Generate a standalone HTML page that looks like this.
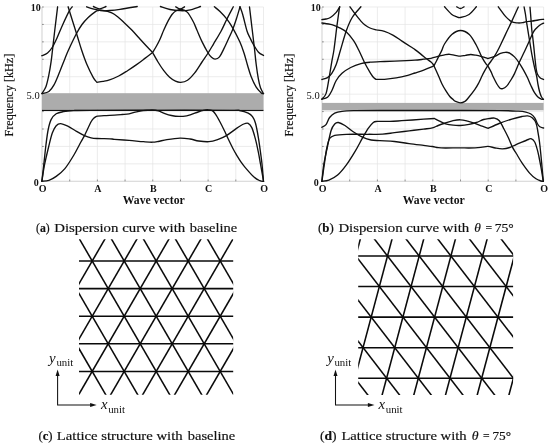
<!DOCTYPE html>
<html><head><meta charset="utf-8"><title>Figure</title>
<style>
html,body{margin:0;padding:0;background:#fff}
body{width:550px;height:446px;overflow:hidden}
svg{display:block}
text{font-family:"Liberation Serif",serif;fill:#111}
.g{stroke:#e4e4e4;stroke-width:0.7}
.ax{stroke:#cfcfcf;stroke-width:0.7}
.tk{stroke:#555;stroke-width:0.6}
.c{fill:none;stroke:#111;stroke-width:1.35;stroke-linecap:round;stroke-linejoin:round}
.tl{font-size:10px;font-weight:bold}
.al{font-size:11.7px;font-weight:bold}
.fl{font-size:12.2px;stroke:#111;stroke-width:0.15}
.t5{font-size:10.5px}
.lt line{stroke:#0a0a0a;stroke-width:1.55}
.it{font-style:italic;font-size:14.8px}
.sub{font-size:10.8px}
.cap{font-size:13px;stroke:#111;stroke-width:0.18}
.b{font-weight:bold}
.i{font-style:italic}
</style></head><body>
<svg width="550" height="446" viewBox="0 0 550 446"><defs><clipPath id="cl"><rect x="79" y="239.2" width="154.2" height="155.6"/></clipPath><clipPath id="cr"><rect x="358.2" y="239.3" width="154.9" height="155.6"/></clipPath></defs><rect width="550" height="446" fill="#fff"/><line x1="42.00" y1="7.00" x2="42.00" y2="181.30" class="g"/><line x1="69.69" y1="7.00" x2="69.69" y2="181.30" class="g"/><line x1="97.38" y1="7.00" x2="97.38" y2="181.30" class="g"/><line x1="125.06" y1="7.00" x2="125.06" y2="181.30" class="g"/><line x1="152.75" y1="7.00" x2="152.75" y2="181.30" class="g"/><line x1="180.44" y1="7.00" x2="180.44" y2="181.30" class="g"/><line x1="208.12" y1="7.00" x2="208.12" y2="181.30" class="g"/><line x1="235.81" y1="7.00" x2="235.81" y2="181.30" class="g"/><line x1="263.50" y1="7.00" x2="263.50" y2="181.30" class="g"/><line x1="42.00" y1="7.00" x2="263.50" y2="7.00" class="g"/><line x1="42.00" y1="24.43" x2="263.50" y2="24.43" class="g"/><line x1="42.00" y1="41.86" x2="263.50" y2="41.86" class="g"/><line x1="42.00" y1="59.29" x2="263.50" y2="59.29" class="g"/><line x1="42.00" y1="76.72" x2="263.50" y2="76.72" class="g"/><line x1="42.00" y1="94.15" x2="263.50" y2="94.15" class="g"/><line x1="42.00" y1="111.58" x2="263.50" y2="111.58" class="g"/><line x1="42.00" y1="129.01" x2="263.50" y2="129.01" class="g"/><line x1="42.00" y1="146.44" x2="263.50" y2="146.44" class="g"/><line x1="42.00" y1="163.87" x2="263.50" y2="163.87" class="g"/><line x1="42.00" y1="181.30" x2="263.50" y2="181.30" class="g"/><line x1="42.00" y1="7.00" x2="42.00" y2="181.30" class="ax"/><line x1="42.00" y1="181.30" x2="263.50" y2="181.30" class="ax"/><line x1="42.00" y1="181.30" x2="42.00" y2="179.50" class="tk"/><line x1="69.69" y1="181.30" x2="69.69" y2="179.50" class="tk"/><line x1="97.38" y1="181.30" x2="97.38" y2="179.50" class="tk"/><line x1="125.06" y1="181.30" x2="125.06" y2="179.50" class="tk"/><line x1="152.75" y1="181.30" x2="152.75" y2="179.50" class="tk"/><line x1="180.44" y1="181.30" x2="180.44" y2="179.50" class="tk"/><line x1="208.12" y1="181.30" x2="208.12" y2="179.50" class="tk"/><line x1="235.81" y1="181.30" x2="235.81" y2="179.50" class="tk"/><line x1="263.50" y1="181.30" x2="263.50" y2="179.50" class="tk"/><line x1="42.00" y1="7.00" x2="43.80" y2="7.00" class="tk"/><line x1="42.00" y1="24.43" x2="43.80" y2="24.43" class="tk"/><line x1="42.00" y1="41.86" x2="43.80" y2="41.86" class="tk"/><line x1="42.00" y1="59.29" x2="43.80" y2="59.29" class="tk"/><line x1="42.00" y1="76.72" x2="43.80" y2="76.72" class="tk"/><line x1="42.00" y1="94.15" x2="43.80" y2="94.15" class="tk"/><line x1="42.00" y1="111.58" x2="43.80" y2="111.58" class="tk"/><line x1="42.00" y1="129.01" x2="43.80" y2="129.01" class="tk"/><line x1="42.00" y1="146.44" x2="43.80" y2="146.44" class="tk"/><line x1="42.00" y1="163.87" x2="43.80" y2="163.87" class="tk"/><line x1="42.00" y1="181.30" x2="43.80" y2="181.30" class="tk"/><rect x="42.00" y="93.20" width="221.50" height="16.40" fill="#acacac"/><line x1="42.00" y1="110.40" x2="263.50" y2="110.40" stroke="#111" stroke-width="1.3"/><path d="M41.90,93.60C42.58,92.40 44.83,89.55 46.00,86.40C47.17,83.25 48.05,78.83 48.90,74.70C49.75,70.57 50.50,65.72 51.10,61.60C51.70,57.48 51.88,55.27 52.50,50.00C53.12,44.73 53.95,37.20 54.80,30.00C55.65,22.80 57.13,10.67 57.60,6.80" class="c"/><path d="M41.90,55.70C42.83,55.25 45.73,54.45 47.50,53.00C49.27,51.55 50.92,49.50 52.50,47.00C54.08,44.50 55.30,41.72 57.00,38.00C58.70,34.28 60.65,29.22 62.70,24.70C64.75,20.18 67.72,13.88 69.30,10.90C70.88,7.92 71.72,7.48 72.20,6.80" class="c"/><path d="M68.10,6.80C69.50,11.25 74.25,26.30 76.50,33.50C78.75,40.70 79.90,44.92 81.60,50.00C83.30,55.08 84.75,59.40 86.70,64.00C88.65,68.60 91.60,74.55 93.30,77.60C95.00,80.65 96.30,81.52 96.90,82.30C97.92,82.15 100.90,81.80 103.00,81.40C105.10,81.00 106.88,80.80 109.50,79.90C112.12,79.00 115.70,77.53 118.70,76.00C121.70,74.47 124.58,72.55 127.50,70.70C130.42,68.85 133.30,66.95 136.20,64.90C139.10,62.85 142.17,60.47 144.90,58.40C147.63,56.33 151.32,53.48 152.60,52.50C153.25,51.42 155.23,48.30 156.50,46.00C157.77,43.70 158.98,41.37 160.20,38.70C161.42,36.03 162.43,33.05 163.80,30.00C165.17,26.95 167.03,22.98 168.40,20.40C169.77,17.82 170.78,16.07 172.00,14.50C173.22,12.93 174.10,11.83 175.70,11.00C177.30,10.17 179.63,9.27 181.60,9.50C183.57,9.73 185.55,10.35 187.50,12.40C189.45,14.45 191.73,18.87 193.30,21.80C194.87,24.73 195.45,26.70 196.90,30.00C198.35,33.30 200.13,37.77 202.00,41.60C203.87,45.43 206.52,50.38 208.10,53.00C209.68,55.62 210.33,56.28 211.50,57.30C212.67,58.32 213.77,59.17 215.10,59.10C216.43,59.03 218.05,58.60 219.50,56.90C220.95,55.20 222.35,51.80 223.80,48.90C225.25,46.00 226.75,42.65 228.20,39.50C229.65,36.35 231.12,33.50 232.50,30.00C233.88,26.50 235.25,22.37 236.50,18.50C237.75,14.63 239.42,8.75 240.00,6.80" class="c"/><path d="M240.00,6.80C240.45,8.08 241.53,10.47 242.70,14.50C243.87,18.53 245.78,27.12 247.00,31.00C248.22,34.88 248.93,35.55 250.00,37.80C251.07,40.05 251.98,42.10 253.40,44.50C254.82,46.90 256.82,50.37 258.50,52.20C260.18,54.03 262.67,54.95 263.50,55.50" class="c"/><path d="M41.90,93.60C43.07,93.25 46.88,92.95 48.90,91.50C50.92,90.05 52.30,87.93 54.00,84.90C55.70,81.87 57.28,77.67 59.10,73.30C60.92,68.93 63.33,62.58 64.90,58.70C66.47,54.82 66.57,54.20 68.50,50.00C70.43,45.80 74.25,37.75 76.50,33.50C78.75,29.25 80.05,27.17 82.00,24.50C83.95,21.83 85.95,19.65 88.20,17.50C90.45,15.35 93.80,12.77 95.50,11.60C97.20,10.43 97.38,10.73 98.40,10.50C99.42,10.27 99.37,9.80 101.60,10.20C103.83,10.60 108.98,11.68 111.80,12.90C114.62,14.12 116.38,15.83 118.50,17.50C120.62,19.17 122.28,20.82 124.50,22.90C126.72,24.98 129.37,27.48 131.80,30.00C134.23,32.52 136.67,35.33 139.10,38.00C141.53,40.67 144.15,43.58 146.40,46.00C148.65,48.42 151.57,51.42 152.60,52.50C153.50,54.08 156.13,58.97 158.00,62.00C159.87,65.03 161.87,68.15 163.80,70.70C165.73,73.25 167.65,75.55 169.60,77.30C171.55,79.05 173.65,80.35 175.50,81.20C177.35,82.05 178.70,82.57 180.70,82.40C182.70,82.23 185.17,81.78 187.50,80.20C189.83,78.62 192.28,75.93 194.70,72.90C197.12,69.87 199.77,65.32 202.00,62.00C204.23,58.68 206.17,56.03 208.10,53.00C210.03,49.97 211.47,47.38 213.60,43.80C215.73,40.22 218.72,35.55 220.90,31.50C223.08,27.45 224.63,23.62 226.70,19.50C228.77,15.38 232.20,8.92 233.30,6.80" class="c"/><path d="M214.40,6.80C215.33,7.58 217.95,9.48 220.00,11.50C222.05,13.52 224.62,16.22 226.70,18.90C228.78,21.58 230.32,23.78 232.50,27.60C234.68,31.42 237.88,37.57 239.80,41.80C241.72,46.03 242.70,49.05 244.00,53.00C245.30,56.95 246.42,61.58 247.60,65.50C248.78,69.42 249.67,72.90 251.10,76.50C252.53,80.10 254.50,84.37 256.20,87.10C257.90,89.83 260.08,91.82 261.30,92.90C262.52,93.98 263.13,93.48 263.50,93.60" class="c"/><path d="M249.50,7.00C249.92,10.50 251.20,21.33 252.00,28.00C252.80,34.67 253.60,40.92 254.30,47.00C255.00,53.08 255.52,59.15 256.20,64.50C256.88,69.85 257.68,75.22 258.40,79.10C259.12,82.98 259.65,85.38 260.50,87.80C261.35,90.22 263.00,92.63 263.50,93.60" class="c"/><path d="M86.60,6.80C87.33,7.05 89.35,7.82 91.00,8.30C92.65,8.78 94.50,9.28 96.50,9.70C98.50,10.12 100.75,10.67 103.00,10.80C105.25,10.93 107.17,10.75 110.00,10.50C112.83,10.25 115.47,9.97 120.00,9.30C124.53,8.63 134.33,6.97 137.20,6.50" class="c"/><path d="M93.40,6.50C94.42,6.88 97.40,8.80 99.50,8.80C101.60,8.80 104.92,6.88 106.00,6.50" class="c"/><path d="M160.40,6.50C162.00,7.00 166.70,8.80 170.00,9.50C173.30,10.20 177.05,10.58 180.20,10.70C183.35,10.82 185.52,10.90 188.90,10.20C192.28,9.50 198.57,7.12 200.50,6.50" class="c"/><path d="M175.80,6.80C176.53,7.17 178.75,9.00 180.20,9.00C181.65,9.00 183.78,7.17 184.50,6.80" class="c"/><path d="M41.90,181.20C42.22,178.42 43.12,170.62 43.80,164.50C44.48,158.38 45.27,150.33 46.00,144.50C46.73,138.67 47.35,133.65 48.20,129.50C49.05,125.35 49.77,122.22 51.10,119.60C52.43,116.98 54.13,115.13 56.20,113.80C58.27,112.47 60.60,112.13 63.50,111.60C66.40,111.07 69.18,110.82 73.60,110.60C78.02,110.38 77.27,110.35 90.00,110.30C102.73,110.25 126.67,110.30 150.00,110.30C173.33,110.30 215.08,110.25 230.00,110.30C244.92,110.35 236.47,110.13 239.50,110.60C242.53,111.07 246.03,112.08 248.20,113.10C250.37,114.12 251.28,115.00 252.50,116.70C253.72,118.40 254.52,119.78 255.50,123.30C256.48,126.82 257.57,132.95 258.40,137.80C259.23,142.65 259.90,148.03 260.50,152.40C261.10,156.77 261.50,159.17 262.00,164.00C262.50,168.83 263.25,178.50 263.50,181.40" class="c"/><path d="M41.90,181.20C42.33,178.48 43.38,170.60 44.50,164.90C45.62,159.20 47.30,152.32 48.60,147.00C49.90,141.68 51.03,136.53 52.30,133.00C53.57,129.47 54.83,127.37 56.20,125.80C57.57,124.23 58.57,123.53 60.50,123.60C62.43,123.67 65.13,124.92 67.80,126.20C70.47,127.48 73.72,129.73 76.50,131.30C79.28,132.87 82.07,134.52 84.50,135.60C86.93,136.68 89.03,137.32 91.10,137.80C93.17,138.28 93.75,138.33 96.90,138.50C100.05,138.67 107.07,138.67 110.00,138.80C112.93,138.93 111.32,139.03 114.50,139.30C117.68,139.57 124.25,140.00 129.10,140.40C133.95,140.80 139.72,141.40 143.60,141.70C147.48,142.00 149.97,142.23 152.40,142.20C154.83,142.17 155.78,141.93 158.20,141.50C160.62,141.07 163.27,140.17 166.90,139.60C170.53,139.03 176.15,138.20 180.00,138.10C183.85,138.00 186.88,138.52 190.00,139.00C193.12,139.48 195.55,140.55 198.70,141.00C201.85,141.45 205.75,141.93 208.90,141.70C212.05,141.47 214.68,140.62 217.60,139.60C220.52,138.58 223.25,137.47 226.40,135.60C229.55,133.73 233.60,130.33 236.50,128.40C239.40,126.47 241.85,124.85 243.80,124.00C245.75,123.15 246.87,122.70 248.20,123.30C249.53,123.90 250.58,124.93 251.80,127.60C253.02,130.27 254.40,135.17 255.50,139.30C256.60,143.43 257.57,148.28 258.40,152.40C259.23,156.52 259.78,160.00 260.50,164.00C261.22,168.00 262.20,173.50 262.70,176.40C263.20,179.30 263.37,180.57 263.50,181.40" class="c"/><path d="M41.90,181.20C43.07,181.05 46.52,181.10 48.90,180.30C51.28,179.50 53.53,178.35 56.20,176.40C58.87,174.45 62.00,172.08 64.90,168.60C67.80,165.12 70.93,159.93 73.60,155.50C76.27,151.07 79.08,145.32 80.90,142.00C82.72,138.68 82.80,138.97 84.50,135.60C86.20,132.23 89.52,124.73 91.10,121.80C92.68,118.87 93.10,118.92 94.00,118.00C94.90,117.08 96.08,116.58 96.50,116.30C97.75,116.18 101.00,115.80 104.00,115.60C107.00,115.40 111.50,115.28 114.50,115.10C117.50,114.92 119.57,114.72 122.00,114.50C124.43,114.28 126.68,114.25 129.10,113.80C131.52,113.35 134.17,112.33 136.50,111.80C138.83,111.27 140.45,110.90 143.10,110.60C145.75,110.30 149.85,109.95 152.40,110.00C154.95,110.05 156.32,110.30 158.40,110.90C160.48,111.50 162.73,112.83 164.90,113.60C167.07,114.37 169.03,115.03 171.40,115.50C173.77,115.97 176.55,116.35 179.10,116.40C181.65,116.45 184.63,116.13 186.70,115.80C188.77,115.47 189.60,115.03 191.50,114.40C193.40,113.77 196.10,112.67 198.10,112.00C200.10,111.33 201.87,110.77 203.50,110.40C205.13,110.03 206.43,109.75 207.90,109.80C209.37,109.85 211.03,109.97 212.30,110.70C213.57,111.43 214.23,112.35 215.50,114.20C216.77,116.05 218.43,119.08 219.90,121.80C221.37,124.52 222.87,127.55 224.30,130.50C225.73,133.45 226.95,136.28 228.50,139.50C230.05,142.72 232.27,147.25 233.60,149.80C234.93,152.35 235.28,152.80 236.50,154.80C237.72,156.80 239.43,159.67 240.90,161.80C242.37,163.93 243.12,165.05 245.30,167.60C247.48,170.15 251.58,174.92 254.00,177.10C256.42,179.28 258.22,179.98 259.80,180.70C261.38,181.42 262.88,181.28 263.50,181.40" class="c"/><text x="40.80" y="10.90" class="tl" text-anchor="end">10</text><text x="39.70" y="99.15" class="t5" text-anchor="end">5.0</text><text x="38.80" y="186.20" class="tl" text-anchor="end">0</text><text x="42.60" y="191.50" class="tl" text-anchor="middle">O</text><text x="97.97" y="191.50" class="tl" text-anchor="middle">A</text><text x="153.35" y="191.50" class="tl" text-anchor="middle">B</text><text x="208.72" y="191.50" class="tl" text-anchor="middle">C</text><text x="264.10" y="191.50" class="tl" text-anchor="middle">O</text><text x="153.75" y="203.50" class="al" text-anchor="middle">Wave vector</text><text transform="translate(13.30,95.15) rotate(-90)" class="fl" text-anchor="middle">Frequency [kHz]</text><line x1="322.00" y1="7.00" x2="322.00" y2="181.30" class="g"/><line x1="349.70" y1="7.00" x2="349.70" y2="181.30" class="g"/><line x1="377.40" y1="7.00" x2="377.40" y2="181.30" class="g"/><line x1="405.10" y1="7.00" x2="405.10" y2="181.30" class="g"/><line x1="432.80" y1="7.00" x2="432.80" y2="181.30" class="g"/><line x1="460.50" y1="7.00" x2="460.50" y2="181.30" class="g"/><line x1="488.20" y1="7.00" x2="488.20" y2="181.30" class="g"/><line x1="515.90" y1="7.00" x2="515.90" y2="181.30" class="g"/><line x1="543.60" y1="7.00" x2="543.60" y2="181.30" class="g"/><line x1="322.00" y1="7.00" x2="543.60" y2="7.00" class="g"/><line x1="322.00" y1="24.43" x2="543.60" y2="24.43" class="g"/><line x1="322.00" y1="41.86" x2="543.60" y2="41.86" class="g"/><line x1="322.00" y1="59.29" x2="543.60" y2="59.29" class="g"/><line x1="322.00" y1="76.72" x2="543.60" y2="76.72" class="g"/><line x1="322.00" y1="94.15" x2="543.60" y2="94.15" class="g"/><line x1="322.00" y1="111.58" x2="543.60" y2="111.58" class="g"/><line x1="322.00" y1="129.01" x2="543.60" y2="129.01" class="g"/><line x1="322.00" y1="146.44" x2="543.60" y2="146.44" class="g"/><line x1="322.00" y1="163.87" x2="543.60" y2="163.87" class="g"/><line x1="322.00" y1="181.30" x2="543.60" y2="181.30" class="g"/><line x1="322.00" y1="7.00" x2="322.00" y2="181.30" class="ax"/><line x1="322.00" y1="181.30" x2="543.60" y2="181.30" class="ax"/><line x1="322.00" y1="181.30" x2="322.00" y2="179.50" class="tk"/><line x1="349.70" y1="181.30" x2="349.70" y2="179.50" class="tk"/><line x1="377.40" y1="181.30" x2="377.40" y2="179.50" class="tk"/><line x1="405.10" y1="181.30" x2="405.10" y2="179.50" class="tk"/><line x1="432.80" y1="181.30" x2="432.80" y2="179.50" class="tk"/><line x1="460.50" y1="181.30" x2="460.50" y2="179.50" class="tk"/><line x1="488.20" y1="181.30" x2="488.20" y2="179.50" class="tk"/><line x1="515.90" y1="181.30" x2="515.90" y2="179.50" class="tk"/><line x1="543.60" y1="181.30" x2="543.60" y2="179.50" class="tk"/><line x1="322.00" y1="7.00" x2="323.80" y2="7.00" class="tk"/><line x1="322.00" y1="24.43" x2="323.80" y2="24.43" class="tk"/><line x1="322.00" y1="41.86" x2="323.80" y2="41.86" class="tk"/><line x1="322.00" y1="59.29" x2="323.80" y2="59.29" class="tk"/><line x1="322.00" y1="76.72" x2="323.80" y2="76.72" class="tk"/><line x1="322.00" y1="94.15" x2="323.80" y2="94.15" class="tk"/><line x1="322.00" y1="111.58" x2="323.80" y2="111.58" class="tk"/><line x1="322.00" y1="129.01" x2="323.80" y2="129.01" class="tk"/><line x1="322.00" y1="146.44" x2="323.80" y2="146.44" class="tk"/><line x1="322.00" y1="163.87" x2="323.80" y2="163.87" class="tk"/><line x1="322.00" y1="181.30" x2="323.80" y2="181.30" class="tk"/><rect x="322.00" y="102.90" width="221.60" height="7.40" fill="#acacac"/><path d="M321.90,19.60C322.58,19.50 324.58,19.35 326.00,19.00C327.42,18.65 328.70,18.60 330.40,17.50C332.10,16.40 334.63,14.18 336.20,12.40C337.77,10.62 339.20,7.73 339.80,6.80" class="c"/><path d="M321.90,23.00C323.55,23.28 328.93,23.93 331.80,24.70C334.67,25.47 336.67,26.38 339.10,27.60C341.53,28.82 343.98,29.82 346.40,32.00C348.82,34.18 351.55,37.70 353.60,40.70C355.65,43.70 356.88,46.37 358.70,50.00C360.52,53.63 362.62,58.77 364.50,62.50C366.38,66.23 368.60,70.03 370.00,72.40C371.40,74.77 371.93,75.55 372.90,76.70C373.87,77.85 375.32,78.87 375.80,79.30C377.25,79.30 381.10,79.53 384.50,79.30C387.90,79.07 392.32,78.57 396.20,77.90C400.08,77.23 404.67,76.12 407.80,75.30C410.93,74.48 412.35,73.87 415.00,73.00C417.65,72.13 421.03,71.07 423.70,70.10C426.37,69.13 429.28,67.93 431.00,67.20C432.72,66.47 433.50,65.95 434.00,65.70C434.35,65.03 435.27,63.33 436.10,61.70C436.93,60.07 438.03,57.83 439.00,55.90C439.97,53.97 440.98,52.08 441.90,50.10C442.82,48.12 442.85,46.60 444.50,44.00C446.15,41.40 449.13,36.75 451.80,34.50C454.47,32.25 457.58,30.50 460.50,30.50C463.42,30.50 466.68,32.08 469.30,34.50C471.92,36.92 474.15,41.32 476.20,45.00C478.25,48.68 479.97,53.45 481.60,56.60C483.23,59.75 484.97,62.38 486.00,63.90C487.03,65.42 487.50,65.40 487.80,65.70C488.35,66.73 490.18,70.02 491.10,71.90C492.02,73.78 492.33,74.98 493.30,77.00C494.27,79.02 495.78,82.13 496.90,84.00C498.02,85.87 499.03,87.43 500.00,88.20C500.97,88.97 501.63,88.90 502.70,88.60C503.77,88.30 505.03,87.83 506.40,86.40C507.77,84.97 509.55,82.13 510.90,80.00C512.25,77.87 513.13,76.47 514.50,73.60C515.87,70.73 517.43,66.48 519.10,62.80C520.77,59.12 522.83,55.05 524.50,51.50C526.17,47.95 527.65,44.70 529.10,41.50C530.55,38.30 531.98,34.52 533.20,32.30C534.42,30.08 535.27,29.42 536.40,28.20C537.53,26.98 538.80,25.85 540.00,25.00C541.20,24.15 543.00,23.42 543.60,23.10" class="c"/><path d="M321.90,99.20C322.58,98.27 324.83,96.95 326.00,93.60C327.17,90.25 327.93,84.43 328.90,79.10C329.87,73.77 330.95,66.53 331.80,61.60C332.65,56.67 333.15,55.40 334.00,49.50C334.85,43.60 336.05,32.75 336.90,26.20C337.75,19.65 338.65,13.43 339.10,10.20C339.55,6.97 339.52,7.37 339.60,6.80" class="c"/><path d="M321.90,79.50C322.83,79.18 325.85,78.63 327.50,77.60C329.15,76.57 330.35,75.48 331.80,73.30C333.25,71.12 334.75,68.38 336.20,64.50C337.65,60.62 338.80,55.67 340.50,50.00C342.20,44.33 344.45,35.92 346.40,30.50C348.35,25.08 349.78,21.45 352.20,17.50C354.62,13.55 359.45,8.58 360.90,6.80" class="c"/><path d="M350.00,6.80C350.85,7.97 353.28,11.42 355.10,13.80C356.92,16.18 359.25,19.23 360.90,21.10C362.55,22.97 363.48,23.85 365.00,25.00C366.52,26.15 368.08,27.18 370.00,28.00C371.92,28.82 375.42,29.58 376.50,29.90C377.83,30.13 381.70,30.40 384.50,31.30C387.30,32.20 390.38,33.67 393.30,35.30C396.22,36.93 399.10,39.18 402.00,41.10C404.90,43.02 408.53,45.38 410.70,46.80C412.87,48.22 413.32,48.38 415.00,49.60C416.68,50.82 418.87,52.57 420.80,54.10C422.73,55.63 424.90,57.47 426.60,58.80C428.30,60.13 429.85,61.10 431.00,62.10C432.15,63.10 433.08,64.35 433.50,64.80C433.93,65.75 435.18,68.47 436.10,70.50C437.02,72.53 438.02,74.75 439.00,77.00C439.98,79.25 440.87,81.72 442.00,84.00C443.13,86.28 444.50,88.62 445.80,90.70C447.10,92.78 448.58,95.03 449.80,96.50C451.02,97.97 452.13,98.68 453.10,99.50C454.07,100.32 454.38,100.85 455.60,101.40C456.82,101.95 458.83,102.82 460.40,102.80C461.97,102.78 463.80,101.98 465.00,101.30C466.20,100.62 465.95,100.70 467.60,98.70C469.25,96.70 473.05,91.92 474.90,89.30C476.75,86.68 477.52,85.22 478.70,83.00C479.88,80.78 481.03,77.97 482.00,76.00C482.97,74.03 483.53,72.92 484.50,71.20C485.47,69.48 486.70,67.40 487.80,65.70C488.90,64.00 489.95,62.63 491.10,61.00C492.25,59.37 493.62,57.60 494.70,55.90C495.78,54.20 496.63,52.62 497.60,50.80C498.57,48.98 499.18,47.73 500.50,45.00C501.82,42.27 503.65,38.30 505.50,34.40C507.35,30.50 509.47,26.17 511.60,21.60C513.73,17.03 517.18,9.43 518.30,7.00" class="c"/><path d="M321.90,99.20C322.83,98.88 325.85,98.72 327.50,97.30C329.15,95.88 330.35,93.50 331.80,90.70C333.25,87.90 334.50,83.40 336.20,80.50C337.90,77.60 339.58,75.47 342.00,73.30C344.42,71.13 347.55,69.12 350.70,67.50C353.85,65.88 357.68,64.48 360.90,63.60C364.12,62.72 366.07,62.55 370.00,62.20C373.93,61.85 378.43,61.75 384.50,61.50C390.57,61.25 401.32,60.92 406.40,60.70C411.48,60.48 412.12,60.45 415.00,60.20C417.88,59.95 421.03,59.52 423.70,59.20C426.37,58.88 428.45,58.80 431.00,58.30C433.55,57.80 436.58,56.82 439.00,56.20C441.42,55.58 443.68,54.92 445.50,54.60C447.32,54.28 448.32,54.18 449.90,54.30C451.48,54.42 453.23,55.00 455.00,55.30C456.77,55.60 458.75,56.10 460.50,56.10C462.25,56.10 463.80,55.57 465.50,55.30C467.20,55.03 468.98,54.52 470.70,54.50C472.42,54.48 473.98,54.85 475.80,55.20C477.62,55.55 479.60,56.05 481.60,56.60C483.60,57.15 486.77,58.18 487.80,58.50C488.95,58.13 492.58,57.15 494.70,56.30C496.82,55.45 498.68,54.07 500.50,53.40C502.32,52.73 504.02,52.32 505.60,52.30C507.18,52.28 508.52,52.53 510.00,53.30C511.48,54.07 512.98,55.32 514.50,56.90C516.02,58.48 517.62,60.65 519.10,62.80C520.58,64.95 522.03,67.38 523.40,69.80C524.77,72.22 526.05,74.68 527.30,77.30C528.55,79.92 529.70,82.93 530.90,85.50C532.10,88.07 533.28,90.73 534.50,92.70C535.72,94.67 537.05,96.23 538.20,97.30C539.35,98.37 540.52,98.77 541.40,99.10C542.28,99.43 543.15,99.27 543.50,99.30" class="c"/><path d="M444.50,6.80C445.67,8.03 449.52,12.55 451.50,14.20C453.48,15.85 454.92,16.15 456.40,16.70C457.88,17.25 458.28,17.87 460.40,17.50C462.52,17.13 466.43,16.28 469.10,14.50C471.77,12.72 475.18,8.08 476.40,6.80" class="c"/><path d="M456.80,6.80C457.40,7.08 459.20,8.50 460.40,8.50C461.60,8.50 463.40,7.08 464.00,6.80" class="c"/><path d="M498.30,6.80C498.58,7.18 498.80,7.50 500.00,9.10C501.20,10.70 503.60,14.32 505.50,16.40C507.40,18.48 509.43,20.52 511.40,21.60C513.37,22.68 515.42,22.72 517.30,22.90C519.18,23.08 521.18,22.92 522.70,22.70C524.22,22.48 524.88,21.87 526.40,21.60C527.92,21.33 529.83,21.37 531.80,21.10C533.77,20.83 536.23,20.30 538.20,20.00C540.17,19.70 542.70,19.42 543.60,19.30" class="c"/><path d="M524.10,7.00C524.33,8.25 525.10,12.03 525.50,14.50C525.90,16.97 526.13,19.37 526.50,21.80C526.87,24.23 527.32,26.73 527.70,29.10C528.08,31.47 528.42,33.63 528.80,36.00C529.18,38.37 529.50,40.27 530.00,43.30C530.50,46.33 531.13,50.58 531.80,54.20C532.47,57.82 533.38,62.12 534.00,65.00C534.62,67.88 535.03,69.50 535.50,71.50C535.97,73.50 536.38,74.83 536.80,77.00C537.22,79.17 537.53,82.03 538.00,84.50C538.47,86.97 539.03,89.75 539.60,91.80C540.17,93.85 540.77,95.55 541.40,96.80C542.03,98.05 543.07,98.88 543.40,99.30" class="c"/><path d="M530.00,7.10C530.15,8.95 530.60,14.38 530.90,18.20C531.20,22.02 531.50,26.87 531.80,30.00C532.10,33.13 532.37,34.18 532.70,37.00C533.03,39.82 533.42,43.28 533.80,46.90C534.18,50.52 534.60,55.02 535.00,58.70C535.40,62.38 535.80,66.45 536.20,69.00C536.60,71.55 536.77,72.55 537.40,74.00C538.03,75.45 538.97,76.78 540.00,77.70C541.03,78.62 543.00,79.20 543.60,79.50" class="c"/><path d="M321.90,127.30C322.58,126.87 324.72,126.33 326.00,124.70C327.28,123.07 328.15,119.43 329.60,117.50C331.05,115.57 332.63,114.13 334.70,113.10C336.77,112.07 338.85,111.70 342.00,111.30C345.15,110.90 347.27,110.83 353.60,110.70C359.93,110.57 365.60,110.53 380.00,110.50C394.40,110.47 420.00,110.48 440.00,110.50C460.00,110.52 486.97,110.48 500.00,110.60C513.03,110.72 513.90,110.95 518.20,111.20C522.50,111.45 523.68,111.63 525.80,112.10C527.92,112.57 529.42,113.05 530.90,114.00C532.38,114.95 533.63,116.22 534.70,117.80C535.77,119.38 536.45,122.02 537.30,123.50C538.15,124.98 538.75,125.95 539.80,126.70C540.85,127.45 542.97,127.78 543.60,128.00" class="c"/><path d="M321.90,181.30C322.22,178.50 322.87,170.30 323.80,164.50C324.73,158.70 326.28,152.17 327.50,146.50C328.72,140.83 329.90,134.25 331.10,130.50C332.30,126.75 333.48,125.33 334.70,124.00C335.92,122.67 336.70,122.25 338.40,122.50C340.10,122.75 342.37,123.92 344.90,125.50C347.43,127.08 350.68,130.07 353.60,132.00C356.52,133.93 359.48,135.77 362.40,137.10C365.32,138.43 368.20,139.40 371.10,140.00C374.00,140.60 375.90,140.45 379.80,140.70C383.70,140.95 389.62,141.02 394.50,141.50C399.38,141.98 404.25,142.95 409.10,143.60C413.95,144.25 419.72,144.92 423.60,145.40C427.48,145.88 429.97,146.12 432.40,146.50C434.83,146.88 436.02,147.45 438.20,147.70C440.38,147.95 441.87,147.98 445.50,148.00C449.13,148.02 456.07,147.80 460.00,147.80C463.93,147.80 465.65,148.07 469.10,148.00C472.55,147.93 477.55,147.67 480.70,147.40C483.85,147.13 485.57,146.30 488.00,146.40C490.43,146.50 492.88,147.60 495.30,148.00C497.72,148.40 500.08,148.88 502.50,148.80C504.92,148.72 507.62,148.17 509.80,147.50C511.98,146.83 513.78,145.62 515.60,144.80C517.42,143.98 518.57,143.48 520.70,142.60C522.83,141.72 526.60,140.13 528.40,139.50C530.20,138.87 530.45,138.38 531.50,138.80C532.55,139.22 533.73,140.20 534.70,142.00C535.67,143.80 536.62,147.27 537.30,149.60C537.98,151.93 538.17,152.93 538.80,156.00C539.43,159.07 540.35,163.77 541.10,168.00C541.85,172.23 542.93,179.17 543.30,181.40" class="c"/><path d="M321.90,181.30C322.30,178.50 323.50,169.97 324.30,164.50C325.10,159.03 325.82,152.83 326.70,148.50C327.58,144.17 328.27,140.70 329.60,138.50C330.93,136.30 331.90,136.00 334.70,135.30C337.50,134.60 340.82,134.47 346.40,134.30C351.98,134.13 362.15,134.32 368.20,134.30C374.25,134.28 378.32,134.47 382.70,134.20C387.08,133.93 390.10,133.27 394.50,132.70C398.90,132.13 404.25,131.40 409.10,130.80C413.95,130.20 419.72,129.58 423.60,129.10C427.48,128.62 429.97,128.50 432.40,127.90C434.83,127.30 436.02,126.32 438.20,125.50C440.38,124.68 443.02,123.80 445.50,123.00C447.98,122.20 450.62,121.23 453.10,120.70C455.58,120.17 457.98,119.73 460.40,119.80C462.82,119.87 465.18,120.52 467.60,121.10C470.02,121.68 472.47,122.45 474.90,123.30C477.33,124.15 479.98,125.35 482.20,126.20C484.42,127.05 487.20,128.03 488.20,128.40C490.02,127.58 495.17,125.05 499.10,123.50C503.03,121.95 507.98,120.27 511.80,119.10C515.62,117.93 519.35,117.03 522.00,116.50C524.65,115.97 526.00,115.68 527.70,115.90C529.40,116.12 530.82,116.63 532.20,117.80C533.58,118.97 535.05,120.57 536.00,122.90C536.95,125.23 537.32,128.62 537.90,131.80C538.48,134.98 539.02,138.30 539.50,142.00C539.98,145.70 540.33,149.33 540.80,154.00C541.27,158.67 541.88,165.43 542.30,170.00C542.72,174.57 543.13,179.50 543.30,181.40" class="c"/><path d="M321.90,181.30C323.07,181.12 326.28,181.23 328.90,180.20C331.52,179.17 334.68,177.65 337.60,175.10C340.52,172.55 343.48,168.85 346.40,164.90C349.32,160.95 352.43,155.85 355.10,151.40C357.77,146.95 360.22,142.03 362.40,138.20C364.58,134.37 366.38,131.02 368.20,128.40C370.02,125.78 371.85,123.67 373.30,122.50C374.75,121.33 376.30,121.58 376.90,121.40C379.08,121.40 385.85,121.52 390.00,121.40C394.15,121.28 396.20,121.07 401.80,120.70C407.40,120.33 418.15,119.57 423.60,119.20C429.05,118.83 432.68,118.62 434.50,118.50C435.35,118.93 437.75,120.22 439.60,121.10C441.45,121.98 443.35,123.12 445.60,123.80C447.85,124.48 450.63,124.92 453.10,125.20C455.57,125.48 457.73,125.63 460.40,125.50C463.07,125.37 466.43,124.90 469.10,124.40C471.77,123.90 473.98,123.32 476.40,122.50C478.82,121.68 481.42,120.17 483.60,119.50C485.78,118.83 487.68,118.73 489.50,118.50C491.32,118.27 492.87,117.73 494.50,118.10C496.13,118.47 497.70,118.85 499.30,120.70C500.90,122.55 502.58,126.35 504.10,129.20C505.62,132.05 507.03,134.85 508.40,137.80C509.77,140.75 510.98,144.28 512.30,146.90C513.62,149.52 514.68,150.83 516.30,153.50C517.92,156.17 519.78,159.63 522.00,162.90C524.22,166.17 527.27,170.45 529.60,173.10C531.93,175.75 534.08,177.48 536.00,178.80C537.92,180.12 539.88,180.57 541.10,181.00C542.32,181.43 542.93,181.33 543.30,181.40" class="c"/><text x="320.80" y="10.90" class="tl" text-anchor="end">10</text><text x="319.70" y="99.15" class="t5" text-anchor="end">5.0</text><text x="318.80" y="186.20" class="tl" text-anchor="end">0</text><text x="322.60" y="191.50" class="tl" text-anchor="middle">O</text><text x="378.00" y="191.50" class="tl" text-anchor="middle">A</text><text x="433.40" y="191.50" class="tl" text-anchor="middle">B</text><text x="488.80" y="191.50" class="tl" text-anchor="middle">C</text><text x="544.20" y="191.50" class="tl" text-anchor="middle">O</text><text x="433.80" y="203.50" class="al" text-anchor="middle">Wave vector</text><text transform="translate(293.30,95.15) rotate(-90)" class="fl" text-anchor="middle">Frequency [kHz]</text><g clip-path="url(#cl)" class="lt"><line x1="0" y1="426.60" x2="300" y2="426.60"/><line x1="0" y1="399.00" x2="300" y2="399.00"/><line x1="0" y1="371.40" x2="300" y2="371.40"/><line x1="0" y1="343.80" x2="300" y2="343.80"/><line x1="0" y1="316.20" x2="300" y2="316.20"/><line x1="0" y1="288.60" x2="300" y2="288.60"/><line x1="0" y1="261.00" x2="300" y2="261.00"/><line x1="0" y1="233.40" x2="300" y2="233.40"/><line x1="0" y1="205.80" x2="300" y2="205.80"/><line x1="0" y1="178.20" x2="300" y2="178.20"/><line x1="-323.80" y1="647.40" x2="-3.80" y2="95.40"/><line x1="-3.80" y1="647.40" x2="-323.80" y2="95.40"/><line x1="-291.80" y1="647.40" x2="28.20" y2="95.40"/><line x1="28.20" y1="647.40" x2="-291.80" y2="95.40"/><line x1="-259.80" y1="647.40" x2="60.20" y2="95.40"/><line x1="60.20" y1="647.40" x2="-259.80" y2="95.40"/><line x1="-227.80" y1="647.40" x2="92.20" y2="95.40"/><line x1="92.20" y1="647.40" x2="-227.80" y2="95.40"/><line x1="-195.80" y1="647.40" x2="124.20" y2="95.40"/><line x1="124.20" y1="647.40" x2="-195.80" y2="95.40"/><line x1="-163.80" y1="647.40" x2="156.20" y2="95.40"/><line x1="156.20" y1="647.40" x2="-163.80" y2="95.40"/><line x1="-131.80" y1="647.40" x2="188.20" y2="95.40"/><line x1="188.20" y1="647.40" x2="-131.80" y2="95.40"/><line x1="-99.80" y1="647.40" x2="220.20" y2="95.40"/><line x1="220.20" y1="647.40" x2="-99.80" y2="95.40"/><line x1="-67.80" y1="647.40" x2="252.20" y2="95.40"/><line x1="252.20" y1="647.40" x2="-67.80" y2="95.40"/><line x1="-35.80" y1="647.40" x2="284.20" y2="95.40"/><line x1="284.20" y1="647.40" x2="-35.80" y2="95.40"/><line x1="-3.80" y1="647.40" x2="316.20" y2="95.40"/><line x1="316.20" y1="647.40" x2="-3.80" y2="95.40"/><line x1="28.20" y1="647.40" x2="348.20" y2="95.40"/><line x1="348.20" y1="647.40" x2="28.20" y2="95.40"/><line x1="60.20" y1="647.40" x2="380.20" y2="95.40"/><line x1="380.20" y1="647.40" x2="60.20" y2="95.40"/><line x1="92.20" y1="647.40" x2="412.20" y2="95.40"/><line x1="412.20" y1="647.40" x2="92.20" y2="95.40"/><line x1="124.20" y1="647.40" x2="444.20" y2="95.40"/><line x1="444.20" y1="647.40" x2="124.20" y2="95.40"/><line x1="156.20" y1="647.40" x2="476.20" y2="95.40"/><line x1="476.20" y1="647.40" x2="156.20" y2="95.40"/><line x1="188.20" y1="647.40" x2="508.20" y2="95.40"/><line x1="508.20" y1="647.40" x2="188.20" y2="95.40"/><line x1="220.20" y1="647.40" x2="540.20" y2="95.40"/><line x1="540.20" y1="647.40" x2="220.20" y2="95.40"/><line x1="252.20" y1="647.40" x2="572.20" y2="95.40"/><line x1="572.20" y1="647.40" x2="252.20" y2="95.40"/><line x1="284.20" y1="647.40" x2="604.20" y2="95.40"/><line x1="604.20" y1="647.40" x2="284.20" y2="95.40"/></g><g clip-path="url(#cr)" class="lt"><line x1="300" y1="439.30" x2="560" y2="439.30"/><line x1="300" y1="408.75" x2="560" y2="408.75"/><line x1="300" y1="378.20" x2="560" y2="378.20"/><line x1="300" y1="347.65" x2="560" y2="347.65"/><line x1="300" y1="317.10" x2="560" y2="317.10"/><line x1="300" y1="286.55" x2="560" y2="286.55"/><line x1="300" y1="256.00" x2="560" y2="256.00"/><line x1="300" y1="225.45" x2="560" y2="225.45"/><line x1="300" y1="194.90" x2="560" y2="194.90"/><line x1="300" y1="164.35" x2="560" y2="164.35"/><line x1="51.50" y1="683.70" x2="214.50" y2="72.70"/><line x1="368.50" y1="683.70" x2="-102.50" y2="72.70"/><line x1="83.20" y1="683.70" x2="246.20" y2="72.70"/><line x1="400.20" y1="683.70" x2="-70.80" y2="72.70"/><line x1="114.90" y1="683.70" x2="277.90" y2="72.70"/><line x1="431.90" y1="683.70" x2="-39.10" y2="72.70"/><line x1="146.60" y1="683.70" x2="309.60" y2="72.70"/><line x1="463.60" y1="683.70" x2="-7.40" y2="72.70"/><line x1="178.30" y1="683.70" x2="341.30" y2="72.70"/><line x1="495.30" y1="683.70" x2="24.30" y2="72.70"/><line x1="210.00" y1="683.70" x2="373.00" y2="72.70"/><line x1="527.00" y1="683.70" x2="56.00" y2="72.70"/><line x1="241.70" y1="683.70" x2="404.70" y2="72.70"/><line x1="558.70" y1="683.70" x2="87.70" y2="72.70"/><line x1="273.40" y1="683.70" x2="436.40" y2="72.70"/><line x1="590.40" y1="683.70" x2="119.40" y2="72.70"/><line x1="305.10" y1="683.70" x2="468.10" y2="72.70"/><line x1="622.10" y1="683.70" x2="151.10" y2="72.70"/><line x1="336.80" y1="683.70" x2="499.80" y2="72.70"/><line x1="653.80" y1="683.70" x2="182.80" y2="72.70"/><line x1="368.50" y1="683.70" x2="531.50" y2="72.70"/><line x1="685.50" y1="683.70" x2="214.50" y2="72.70"/><line x1="400.20" y1="683.70" x2="563.20" y2="72.70"/><line x1="717.20" y1="683.70" x2="246.20" y2="72.70"/><line x1="431.90" y1="683.70" x2="594.90" y2="72.70"/><line x1="748.90" y1="683.70" x2="277.90" y2="72.70"/><line x1="463.60" y1="683.70" x2="626.60" y2="72.70"/><line x1="780.60" y1="683.70" x2="309.60" y2="72.70"/><line x1="495.30" y1="683.70" x2="658.30" y2="72.70"/><line x1="812.30" y1="683.70" x2="341.30" y2="72.70"/><line x1="527.00" y1="683.70" x2="690.00" y2="72.70"/><line x1="844.00" y1="683.70" x2="373.00" y2="72.70"/><line x1="558.70" y1="683.70" x2="721.70" y2="72.70"/><line x1="875.70" y1="683.70" x2="404.70" y2="72.70"/><line x1="590.40" y1="683.70" x2="753.40" y2="72.70"/><line x1="907.40" y1="683.70" x2="436.40" y2="72.70"/><line x1="622.10" y1="683.70" x2="785.10" y2="72.70"/><line x1="939.10" y1="683.70" x2="468.10" y2="72.70"/><line x1="653.80" y1="683.70" x2="816.80" y2="72.70"/><line x1="970.80" y1="683.70" x2="499.80" y2="72.70"/><line x1="685.50" y1="683.70" x2="848.50" y2="72.70"/><line x1="1002.50" y1="683.70" x2="531.50" y2="72.70"/><line x1="717.20" y1="683.70" x2="880.20" y2="72.70"/><line x1="1034.20" y1="683.70" x2="563.20" y2="72.70"/></g><path d="M57.60,373.50 L57.60,405.00 L92.70,405.00" fill="none" stroke="#111" stroke-width="1.05"/><path d="M57.60,369.50 l-2,6.6 l4,0 z" fill="#111"/><path d="M96.70,405.00 l-6.6,-2 l0,4 z" fill="#111"/><path d="M335.50,373.50 L335.50,405.00 L370.50,405.00" fill="none" stroke="#111" stroke-width="1.05"/><path d="M335.50,369.50 l-2,6.6 l4,0 z" fill="#111"/><path d="M374.50,405.00 l-6.6,-2 l0,4 z" fill="#111"/><text x="49" y="362.8" class="it">y</text><text x="56.4" y="365.9" class="sub">unit</text><text x="100.9" y="409" class="it">x</text><text x="108.2" y="412.6" class="sub">unit</text><text x="327.3" y="362.8" class="it">y</text><text x="334.4" y="365.9" class="sub">unit</text><text x="378.5" y="409" class="it">x</text><text x="385.8" y="412.6" class="sub">unit</text><text x="36.00" y="232.00" class="cap" textLength="13.60" lengthAdjust="spacingAndGlyphs">(<tspan class="b">a</tspan>)</text><text x="54.20" y="232.00" class="cap" textLength="131.00" lengthAdjust="spacingAndGlyphs">Dispersion curve with</text><text x="189.80" y="232.00" class="cap" textLength="47.40" lengthAdjust="spacingAndGlyphs">baseline</text><text x="318.00" y="232.00" class="cap" textLength="15.80" lengthAdjust="spacingAndGlyphs">(<tspan class="b">b</tspan>)</text><text x="338.40" y="232.00" class="cap" textLength="130.80" lengthAdjust="spacingAndGlyphs">Dispersion curve with</text><text x="474.20" y="232.00" class="cap i" textLength="6.60" lengthAdjust="spacingAndGlyphs">θ</text><text x="485.60" y="232.00" class="cap" textLength="6.60" lengthAdjust="spacingAndGlyphs">=</text><text x="494.80" y="232.00" class="cap" textLength="19.00" lengthAdjust="spacingAndGlyphs">75°</text><text x="38.40" y="440.40" class="cap" textLength="14.20" lengthAdjust="spacingAndGlyphs">(<tspan class="b">c</tspan>)</text><text x="56.80" y="440.40" class="cap" textLength="125.80" lengthAdjust="spacingAndGlyphs">Lattice structure with</text><text x="187.80" y="440.40" class="cap" textLength="47.40" lengthAdjust="spacingAndGlyphs">baseline</text><text x="320.00" y="440.40" class="cap" textLength="16.60" lengthAdjust="spacingAndGlyphs">(<tspan class="b">d</tspan>)</text><text x="341.40" y="440.40" class="cap" textLength="125.20" lengthAdjust="spacingAndGlyphs">Lattice structure with</text><text x="471.80" y="440.40" class="cap i" textLength="6.80" lengthAdjust="spacingAndGlyphs">θ</text><text x="483.00" y="440.40" class="cap" textLength="6.60" lengthAdjust="spacingAndGlyphs">=</text><text x="492.40" y="440.40" class="cap" textLength="18.60" lengthAdjust="spacingAndGlyphs">75°</text></svg>
</body></html>
